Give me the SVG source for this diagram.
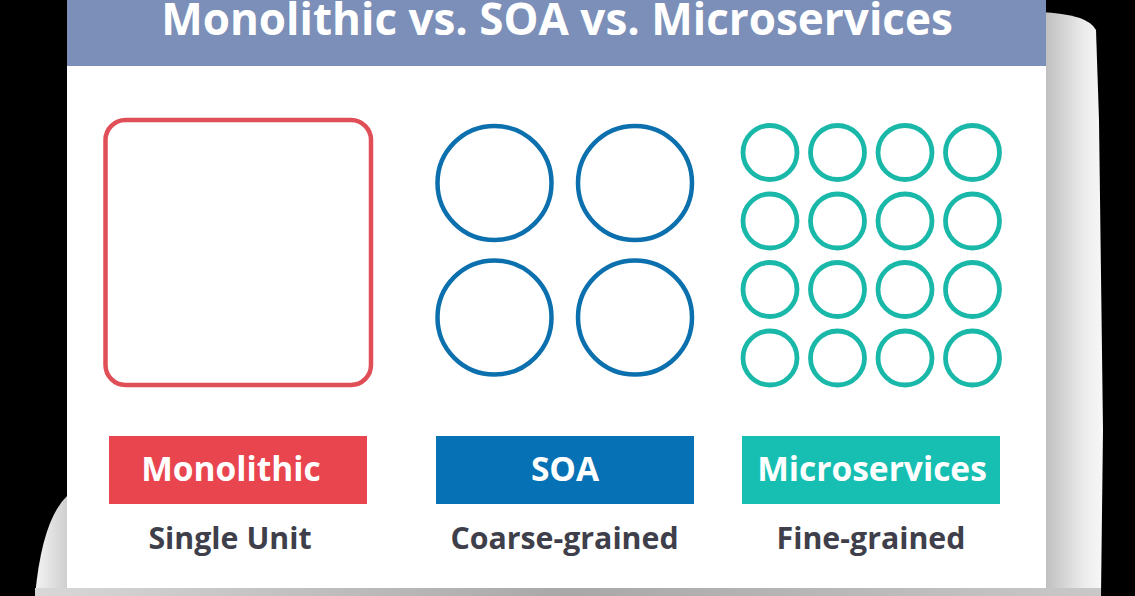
<svg xmlns="http://www.w3.org/2000/svg" width="1135" height="596" viewBox="0 0 1135 596">
  <defs>
    <linearGradient id="shR" x1="0" y1="0" x2="1" y2="0">
      <stop offset="0" stop-color="#b9b9b9"/>
      <stop offset="0.7" stop-color="#ececec"/>
      <stop offset="1" stop-color="#f7f7f7"/>
    </linearGradient>
    <linearGradient id="shL" x1="1" y1="0" x2="0" y2="0">
      <stop offset="0" stop-color="#cfcfcf"/>
      <stop offset="1" stop-color="#f4f4f4"/>
    </linearGradient>
    <linearGradient id="shB" x1="0" y1="0" x2="1" y2="0">
      <stop offset="0" stop-color="#d8d8d8"/>
      <stop offset="0.5" stop-color="#a8a8a8"/>
      <stop offset="1" stop-color="#c8c8c8"/>
    </linearGradient>
    <style>
      .title { font-family: "Open Sans", "Noto Sans", "Liberation Sans", sans-serif; font-weight: 700; fill: #ffffff; }
      .lbl { font-family: "Open Sans", "Noto Sans", "Liberation Sans", sans-serif; font-weight: 700; fill: #ffffff; font-size: 33.5px; text-anchor: middle; }
      .sub { font-family: "Open Sans", "Noto Sans", "Liberation Sans", sans-serif; font-weight: 700; fill: #3e3f4b; font-size: 30.3px; text-anchor: middle; }
      .soa { fill: none; stroke: #0b70ad; stroke-width: 4.5; }
      .ms { fill: none; stroke: #19b8a9; stroke-width: 4.8; }
    </style>
  </defs>

  <rect x="0" y="0" width="1135" height="596" fill="#000000"/>

  <!-- shadows -->
  <path d="M1040,12 Q1088,14 1096,30 L1099,120 L1103,430 L1101,596 L1040,596 Z" fill="url(#shR)"/>
  <path d="M67,496 Q42,520 35,596 L67,596 Z" fill="url(#shL)"/>
  <rect x="35" y="588" width="1066" height="8" fill="url(#shB)"/>

  <!-- card -->
  <rect x="67" y="0" width="979" height="588" fill="#ffffff"/>
  <rect x="67" y="0" width="979" height="66" fill="#7b8fb8"/>
  <text class="title" x="557" y="35" font-size="44" text-anchor="middle">Monolithic vs. SOA vs. Microservices</text>

  <g id="monolithic">
    <rect x="105.5" y="120" width="265.5" height="265" rx="20" ry="20" fill="none" stroke="#e04f58" stroke-width="4.5"/>
    <rect x="109" y="436" width="258" height="68" fill="#e8454f"/>
    <text class="lbl" x="231" y="481">Monolithic</text>
    <text class="sub" x="230" y="549">Single Unit</text>
  </g>

  <g id="soa">
    <circle class="soa" cx="494.5" cy="183" r="57"/>
    <circle class="soa" cx="635" cy="183" r="57"/>
    <circle class="soa" cx="494.5" cy="317.5" r="57"/>
    <circle class="soa" cx="635" cy="317.5" r="57"/>
    <rect x="436" y="436" width="258" height="68" fill="#0671b4"/>
    <text class="lbl" x="565" y="481">SOA</text>
    <text class="sub" x="564.5" y="549">Coarse-grained</text>
  </g>

  <g id="microservices">
    <circle class="ms" cx="770" cy="152.5" r="27"/>
    <circle class="ms" cx="837.5" cy="152.5" r="27"/>
    <circle class="ms" cx="905" cy="152.5" r="27"/>
    <circle class="ms" cx="972.5" cy="152.5" r="27"/>
    <circle class="ms" cx="770" cy="221" r="27"/>
    <circle class="ms" cx="837.5" cy="221" r="27"/>
    <circle class="ms" cx="905" cy="221" r="27"/>
    <circle class="ms" cx="972.5" cy="221" r="27"/>
    <circle class="ms" cx="770" cy="289.5" r="27"/>
    <circle class="ms" cx="837.5" cy="289.5" r="27"/>
    <circle class="ms" cx="905" cy="289.5" r="27"/>
    <circle class="ms" cx="972.5" cy="289.5" r="27"/>
    <circle class="ms" cx="770" cy="358" r="27"/>
    <circle class="ms" cx="837.5" cy="358" r="27"/>
    <circle class="ms" cx="905" cy="358" r="27"/>
    <circle class="ms" cx="972.5" cy="358" r="27"/>
    <rect x="742" y="436" width="258" height="68" fill="#16bfb1"/>
    <text class="lbl" x="872" y="481">Microservices</text>
    <text class="sub" x="871" y="549">Fine-grained</text>
  </g>

  <g id="connectors"></g>
</svg>
